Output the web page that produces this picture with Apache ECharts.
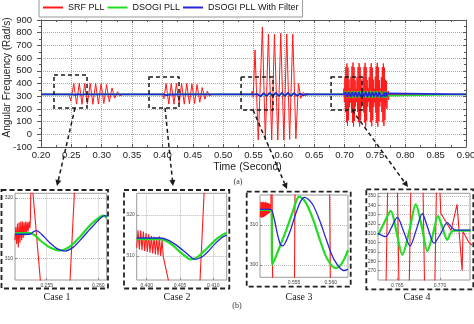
<!DOCTYPE html>
<html>
<head>
<meta charset="utf-8">
<script src="https://cdn.jsdelivr.net/npm/echarts@6/dist/echarts.min.js"></script>
<style>
html,body{margin:0;padding:0;background:#fff;}
#c{width:474px;height:324px;}
</style>
</head>
<body>
<div id="c"></div>
<script>
// ---- series identity ----
const seriesNames = ['SRF PLL', 'DSOGI PLL', 'DSOGI PLL With Filter'];
const seriesColors = ['#ff1a1a', '#22dd22', '#2626d8'];

// ---- main panel (a): angular frequency vs time, [t (s), rad/s] ----
const srfMain = [
  [0.200,314],[0.246,314],[0.249,262],[0.254,400],[0.2585,238],[0.263,402],[0.2675,236],[0.272,400],[0.2765,238],
  [0.281,401],[0.2855,236],[0.290,400],[0.2945,238],[0.299,398],[0.3035,242],[0.308,392],[0.3125,255],[0.317,365],
  [0.3215,285],[0.326,335],[0.330,303],[0.334,314],
  [0.400,314],[0.4025,280],[0.406,400],[0.4105,238],[0.4145,401],[0.419,237],[0.423,400],[0.4275,238],[0.4315,401],
  [0.436,237],[0.440,400],[0.4445,240],[0.4485,398],[0.453,243],[0.457,392],[0.4615,252],[0.4655,368],[0.470,276],
  [0.474,340],[0.4775,300],[0.481,314],
  [0.546,314],[0.548,340],[0.5495,290],[0.5525,664],[0.5578,-45],[0.5646,845],[0.5695,-45],[0.5745,790],[0.5800,-45],
  [0.5845,787],[0.5900,-45],[0.5949,795],[0.6000,-45],[0.6048,790],[0.6095,-40],[0.6147,790],[0.6198,-35],[0.6240,400],
  [0.6280,283],[0.6320,330],[0.6360,305],[0.640,314],
  [0.698,314],
  [0.6989,360],[0.6997,255],[0.7006,450],[0.7014,175],[0.7022,530],[0.7031,95],[0.7039,558],[0.7048,66],[0.7056,525],[0.7064,110],[0.7073,430],[0.7081,215],
  [0.7089,362],[0.7097,250],[0.7106,455],[0.7114,170],[0.7122,535],[0.7131,90],[0.7139,565],[0.7148,60],[0.7156,528],[0.7164,105],[0.7173,425],[0.7181,220],
  [0.7189,358],[0.7197,255],[0.7206,450],[0.7214,175],[0.7222,530],[0.7231,95],[0.7239,560],[0.7248,62],[0.7256,530],[0.7264,110],[0.7273,432],[0.7281,212],
  [0.7289,360],[0.7297,252],[0.7306,452],[0.7314,172],[0.7322,532],[0.7331,92],[0.7339,562],[0.7348,60],[0.7356,527],[0.7364,106],[0.7373,428],[0.7381,218],
  [0.7389,361],[0.7397,255],[0.7406,450],[0.7414,175],[0.7422,530],[0.7431,95],[0.7439,560],[0.7448,63],[0.7456,525],[0.7464,110],[0.7473,430],[0.7481,214],
  [0.7489,359],[0.7497,250],[0.7506,454],[0.7514,170],[0.7522,534],[0.7531,90],[0.7539,563],[0.7548,60],[0.7556,529],[0.7564,104],[0.7573,426],[0.7581,219],
  [0.7589,360],[0.7597,255],[0.7606,450],[0.7614,175],[0.7622,530],[0.7631,95],[0.7639,558],[0.7648,65],[0.7656,525],[0.7664,112],[0.7673,430],[0.7681,215],
  [0.7690,420],[0.7698,200],[0.7704,331],[0.7713,313],[0.7720,341],[0.7726,270],[0.7729,310],[0.7735,300],[0.7742,295],
  [0.7760,305],[0.7780,314],[0.900,314]
];
const dsogiMain = [
  [0.200,314],[0.252,314],[0.2563,311],[0.2605,317],[0.265,312.5],[0.270,315],[0.280,314],
  [0.402,314],[0.4065,309],[0.4118,315.5],[0.418,313],[0.430,314],
  [0.5519,314],[0.5521,300],[0.5557,317],[0.5607,299],[0.5657,321],[0.5707,301],[0.5757,323],[0.5807,302],[0.5857,323],
  [0.5907,302],[0.5957,323],[0.6007,302],[0.6057,323],[0.6107,302],[0.6157,322],[0.6207,304],[0.6257,319],[0.6307,308],
  [0.6357,316],[0.642,314],
  [0.6990,314],[0.7013,338],[0.7039,289],[0.7065,340],[0.7091,288],[0.7117,341],[0.7143,287],[0.7169,339],[0.7195,290],
  [0.7221,340],[0.7247,288],[0.7273,341],[0.7299,287],[0.7325,338],[0.7351,290],[0.7377,340],[0.7403,288],[0.7429,341],
  [0.7455,287],[0.7481,339],[0.7507,289],[0.7533,340],[0.7559,288],[0.7585,341],[0.7611,287],[0.7627,310],[0.7642,334],
  [0.7656,287],[0.7672,341],[0.7685,291],[0.7698,329],[0.7709,303],[0.7717,313],[0.900,314]
];
const filterMain = [
  [0.200,314],[0.252,314],[0.254,314.6],[0.2568,311.2],[0.2607,317],[0.2655,312.5],[0.271,315],[0.280,314],
  [0.402,314.4],[0.40725,309.2],[0.412,315.1],[0.418,313.5],[0.430,314],
  [0.5518,314],[0.5534,304.8],[0.5565,317],[0.5618,298.6],[0.5668,324],[0.5718,302],[0.5768,326],[0.5818,303],[0.5868,326],
  [0.5918,303],[0.5968,326],[0.6018,303],[0.6068,326],[0.6118,303],[0.6168,324],[0.6218,304],[0.6268,320],[0.6318,308],
  [0.6368,316],[0.643,314],
  [0.6990,314],[0.7012,330],[0.7040,297],[0.7068,331],[0.7096,297],[0.7124,330],[0.7152,298],[0.7180,331],[0.7208,297],
  [0.7236,330],[0.7264,297],[0.7292,331],[0.7320,298],[0.7348,330],[0.7376,297],[0.7404,331],[0.7432,297],[0.7460,330],
  [0.7488,298],[0.7516,331],[0.7544,297],[0.7572,330],[0.7600,298],[0.7636,306.5],[0.7650,327],[0.76649,296.5],
  [0.76793,331],[0.7693,299.5],[0.77086,321.5],[0.7718,313.5],[0.900,314]
];

// ---- panel (b): close-ups of the four disturbance cases ----
const srfCase1 = [
  [0.25193,313.0],[0.25201,315.2],[0.25209,312.4],[0.25217,315.8],[0.25225,311.8],[0.25233,316.0],[0.25241,312.6],
  [0.25249,316.1],[0.25257,313.0],[0.25265,316.1],[0.25273,313.4],[0.25281,316.0],[0.25289,313.8],[0.25297,316.1],
  [0.25305,314.2],[0.25313,316.0],[0.25321,314.5],[0.25329,316.1],[0.25337,315.0],[0.25341,316.0],[0.25350,324.2],
  [0.25480,298.0],[0.25600,280.0],[0.25700,297.5],[0.25800,331.8],[0.26090,345.0]
];
const dsogiCase1 = [
  [0.25193,314.2],[0.25338,314.2],[0.25387,313.8],[0.25435,313.0],[0.25532,311.8],[0.25629,311.3],[0.25726,312.0],
  [0.25823,313.6],[0.25920,315.5],[0.26016,316.9],[0.26055,317.1],[0.26081,316.7]
];
const filterCase1 = [
  [0.25193,314.0],[0.25338,314.0],[0.25370,314.4],[0.25403,314.6],[0.25450,314.0],[0.25530,312.6],[0.25600,311.6],
  [0.25677,311.2],[0.25760,311.9],[0.25850,313.5],[0.25950,315.4],[0.26065,317.1],[0.26081,317.0]
];
const srfCase2 = [
  [0.3985,312.0],[0.3987,316.3],[0.3989,311.6],[0.3991,316.2],[0.3993,311.4],[0.3995,316.0],[0.3997,311.2],[0.3999,315.6],
  [0.4001,311.0],[0.4003,315.3],[0.4005,310.8],[0.4007,314.9],[0.4009,310.6],[0.4011,314.7],[0.4013,310.4],[0.4015,314.6],
  [0.4017,310.2],[0.4019,314.8],[0.4021,310.0],[0.4023,314.0],[0.40249,309.8],[0.40324,304.2],[0.4045,290],[0.4060,250],
  [0.4077,293.7],[0.4090,339],[0.4121,360]
];
const dsogiCase2 = [
  [0.3985,314.1],[0.4020,314.1],[0.4030,313.6],[0.4040,312.5],[0.4050,311.0],[0.4060,309.7],[0.4065,309.2],[0.4075,309.6],
  [0.4085,311.0],[0.4095,312.6],[0.4105,314.2],[0.4118,315.5],[0.4120,315.6]
];
const filterCase2 = [
  [0.3985,314.4],[0.4020,314.4],[0.4032,313.9],[0.4045,312.6],[0.4058,310.9],[0.4068,309.5],[0.40725,309.2],[0.4082,309.7],
  [0.4092,311.1],[0.4102,312.9],[0.4112,314.4],[0.4120,315.1]
];
const srfCase3 = [
  [0.55040,312.0],[0.55048,315.8],[0.55056,311.8],[0.55064,315.7],[0.55072,311.9],[0.55080,315.8],[0.55088,312.0],
  [0.55096,315.6],[0.55104,312.2],[0.55112,315.8],[0.55120,312.4],[0.55128,315.6],[0.55136,312.6],[0.55144,315.5],
  [0.55152,312.8],[0.55160,315.4],[0.55168,313.0],[0.55176,315.2],[0.55184,313.4],[0.55195,340],[0.55213,280],
  [0.5545,200],[0.55500,280],[0.55520,335],[0.5575,500],[0.55980,330],[0.56002,280],[0.5624,150]
];
const dsogiCase3 = [
  [0.55036,313.75],[0.55190,313.75],[0.55204,300],[0.5530,304.3],[0.5540,309.0],[0.5548,313.2],[0.5553,316.0],
  [0.55568,317.1],[0.5565,315.9],[0.5575,311.9],[0.5585,306.4],[0.5595,301.6],[0.56069,299.2],[0.5615,300.3],[0.56236,303.7]
];
const filterCase3 = [
  [0.55036,313.9],[0.55182,313.9],[0.55230,311.5],[0.55270,308.0],[0.55310,305.3],[0.55340,304.75],[0.55380,305.5],
  [0.5545,308.6],[0.5552,312.6],[0.5559,315.9],[0.55646,316.9],[0.5575,315.25],[0.5585,311.1],[0.5595,305.8],
  [0.5605,301.2],[0.56182,298.6],[0.56236,298.9]
];
const srfCase4 = [
  [0.76274,90],[0.7634,100],[0.7642,540],[0.7647,540],[0.7655,80],[0.7661,80],[0.7669,540],[0.7677,540],[0.7685,80],
  [0.7691,90],[0.7697,420],[0.7701,331.5],[0.7713,313],[0.7720,341],[0.7726,270],[0.7727,312],[0.7734,300],[0.7741,295]
];
const dsogiCase4 = [
  [0.76274,308],[0.76350,322],[0.76423,334],[0.76490,312],[0.76559,287],[0.76640,312],[0.76716,341],[0.76785,318],
  [0.76852,291],[0.76915,308],[0.76977,328.6],[0.77030,316],[0.77086,303],[0.77130,311],[0.77170,313],[0.77360,313]
];
const filterCase4 = [
  [0.76274,310],[0.76364,306.5],[0.76430,316],[0.76500,327],[0.76575,312],[0.76649,296.5],[0.76720,313],[0.76793,331],
  [0.76860,315],[0.76930,299.5],[0.77010,310],[0.77086,321.5],[0.77140,316],[0.77184,313.5],[0.77360,313.5]
];

// axis ranges and tick values of the close-ups
const caseXRange = [[0.25193,0.26081],[0.3985,0.4120],[0.55036,0.56236],[0.76274,0.77352]];
const caseYRange = [[306.4,320.8],[304.15,325.3],[296.9,317.5],[260,352.9]];
const caseXTicks = [[0.255,0.260],[0.400,0.405,0.410],[0.555,0.560],[0.765,0.770]];
const caseYTicks = [[310,320],[310,320],[300,310],[270,280,290,300,310,320,330,340,350]];
const caseTitles = ['Case 1','Case 2','Case 3','Case 4'];

// zoom windows marked on the main panel: [t0, t1, v0, v1]
const caseWindows = [[0.2214,0.2758,207,467],[0.3779,0.4273,207,451],[0.5295,0.5822,191,451],[0.6778,0.7288,191,451]];
const arrowFrom = [[0.256,207],[0.4043,207],[0.5493,191],[0.7124,191]];

// ---- layout (pixels) ----
const insetLayout = [
  {box:[1.5,190,106.5,98.5], plot:[15,193.3,91.7,86.7], caption:[57,297], tip:[57,186]},
  {box:[124,190,105.3,98.5], plot:[136.7,193.3,90,86.7], caption:[177,297], tip:[173,186]},
  {box:[246.7,191.7,104,95], plot:[260,195,88,82.3], caption:[299,297], tip:[287,189]},
  {box:[366.3,189.3,107,100], plot:[378,193.3,92,86.7], caption:[417,297], tip:[408,187]}
];

const FONT = '"Liberation Sans", Arial, sans-serif';
const SERIF = '"Liberation Serif", "Times New Roman", serif';
const AX = '#555';

const grids = [{left:41, top:20, right:8, bottom:177, show:false, outerBoundsMode:'none', containLabel:false}];
insetLayout.forEach(L => {
  grids.push({left:L.plot[0], top:L.plot[1], width:L.plot[2], height:L.plot[3],
    outerBoundsMode:'none', containLabel:false,
    show:true, borderColor:'#9a9a9a', borderWidth:1, backgroundColor:'#fff'});
});

const xAxes = [
  {type:'value', gridIndex:0, min:0.2, max:0.9, interval:0.05,
   axisLine:{show:true, onZero:false, lineStyle:{color:AX}},
   axisTick:{inside:true, length:3, lineStyle:{color:AX}},
   minorTick:{show:true, splitNumber:2, length:2, lineStyle:{color:AX}},
   axisLabel:{fontSize:9.5, margin:3, color:'#222', fontFamily:FONT, formatter:v => v.toFixed(2)},
   splitLine:{show:true, lineStyle:{type:'dotted', color:'#aaa'}},
   name:'Time (Second)', nameLocation:'middle', nameGap:15, nameMoveOverlap:false,
   nameTextStyle:{fontSize:10.5, color:'#222', fontFamily:FONT, padding:[0,12,0,0]}},
  {type:'value', gridIndex:0, position:'top', min:0.2, max:0.9, interval:0.05,
   axisLine:{show:true, onZero:false, lineStyle:{color:AX}},
   axisTick:{inside:true, length:3, lineStyle:{color:AX}},
   minorTick:{show:true, splitNumber:2, length:2, lineStyle:{color:AX}},
   axisLabel:{show:false}, splitLine:{show:false}}
];
const yAxes = [
  {type:'value', gridIndex:0, min:-100, max:900, interval:100,
   axisLine:{show:true, onZero:false, lineStyle:{color:AX}},
   axisTick:{inside:false, length:4, lineStyle:{color:AX}},
   minorTick:{show:true, splitNumber:2, length:2, lineStyle:{color:AX}},
   axisLabel:{fontSize:9.5, margin:9, color:'#222', fontFamily:FONT},
   splitLine:{show:true, lineStyle:{type:'dotted', color:'#aaa'}},
   name:'Angular Frequency (Rad/s)', nameLocation:'middle', nameGap:29, nameMoveOverlap:false,
   nameTextStyle:{fontSize:10, color:'#222', fontFamily:FONT, padding:[0,0,0,12]}},
  {type:'value', gridIndex:0, position:'right', min:-100, max:900, interval:100,
   axisLine:{show:true, onZero:false, lineStyle:{color:AX}},
   axisTick:{inside:true, length:3, lineStyle:{color:AX}},
   minorTick:{show:true, splitNumber:2, length:2, lineStyle:{color:AX}},
   axisLabel:{show:false}, splitLine:{show:false}}
];
for (let i = 0; i < 4; i++) {
  xAxes.push({type:'value', gridIndex:i+1, min:caseXRange[i][0], max:caseXRange[i][1],
    axisLine:{show:false},
    axisTick:{show:true, inside:true, length:2, customValues:caseXTicks[i], lineStyle:{color:'#888'}},
    axisLabel:{customValues:caseXTicks[i], fontSize:5, margin:3, color:'#444', fontFamily:FONT,
      formatter:v => v.toFixed(3)},
    splitLine:{show:true, lineStyle:{type:'dotted', color:'#bbb'}}});
  yAxes.push({type:'value', gridIndex:i+1, min:caseYRange[i][0], max:caseYRange[i][1],
    axisLine:{show:false},
    axisTick:{show:true, inside:true, length:2, customValues:caseYTicks[i], lineStyle:{color:'#888'}},
    axisLabel:{customValues:caseYTicks[i], fontSize:5, margin:2, color:'#444', fontFamily:FONT},
    splitLine:{show:true, lineStyle:{type:'dotted', color:'#bbb'}}});
}

function lineSeries(k, data, axis, width, smooth) {
  return {name:seriesNames[k], type:'line', xAxisIndex:axis, yAxisIndex:axis, data:data,
    symbol:'none', smooth:smooth || false, lineStyle:{color:seriesColors[k], width:width},
    itemStyle:{color:seriesColors[k]}, z:2 + k, silent:true};
}

const caseSets = [
  [srfCase1, dsogiCase1, filterCase1],
  [srfCase2, dsogiCase2, filterCase2],
  [srfCase3, dsogiCase3, filterCase3],
  [srfCase4, dsogiCase4, filterCase4]
];

const series = [
  lineSeries(0, srfMain, 0, 1),
  lineSeries(1, dsogiMain, 0, 1.6),
  lineSeries(2, filterMain, 0, 1.8)
];
caseSets.forEach((set, i) => {
  series.push(lineSeries(0, set[0], i + 2, 1.1));
  series.push(lineSeries(1, set[1], i + 2, 2.2, 0.3));
  series.push(lineSeries(2, set[2], i + 2, 1.3, 0.3));
});

const option = {
  animation:false,
  backgroundColor:'#fff',
  textStyle:{fontFamily:FONT},
  legend:{data:seriesNames, left:39, top:-3, orient:'horizontal', icon:'rect',
    itemWidth:20, itemHeight:2, itemGap:3, padding:[6,4,5,4],
    borderColor:'#999', borderWidth:1, backgroundColor:'#fff',
    textStyle:{fontSize:9, color:'#111', fontFamily:FONT}},
  grid:grids, xAxis:xAxes, yAxis:yAxes, series:series
};

const chart = echarts.init(document.getElementById('c'), null, {renderer:'canvas'});
chart.setOption(option);

// annotation layer: zoom windows, arrows, close-up frames and captions
const graphics = [];
caseWindows.forEach(w => {
  const p0 = chart.convertToPixel({gridIndex:0}, [w[0], w[3]]);
  const p1 = chart.convertToPixel({gridIndex:0}, [w[1], w[2]]);
  graphics.push({type:'rect', z:50, silent:true,
    shape:{x:p0[0], y:p0[1], width:p1[0]-p0[0], height:p1[1]-p0[1]},
    style:{fill:'none', stroke:'#1a1a1a', lineWidth:1.5, lineDash:[4,3]}});
});
arrowFrom.forEach((a, i) => {
  const s = chart.convertToPixel({gridIndex:0}, a);
  const e = insetLayout[i].tip;
  const dx = e[0]-s[0], dy = e[1]-s[1], len = Math.hypot(dx, dy);
  const ux = dx/len, uy = dy/len, px = -uy, py = ux;
  const hl = 6, hw = 3;
  const bx = e[0]-ux*hl, by = e[1]-uy*hl;
  graphics.push({type:'line', z:50, silent:true,
    shape:{x1:s[0], y1:s[1], x2:bx, y2:by},
    style:{stroke:'#1a1a1a', lineWidth:1.5, lineDash:[4,3]}});
  graphics.push({type:'polygon', z:50, silent:true,
    shape:{points:[[e[0],e[1]],[bx+px*hw,by+py*hw],[bx-px*hw,by-py*hw]]},
    style:{fill:'#1a1a1a'}});
});
insetLayout.forEach((L, i) => {
  graphics.push({type:'rect', z:50, silent:true,
    shape:{x:L.box[0], y:L.box[1], width:L.box[2], height:L.box[3]},
    style:{fill:'none', stroke:'#222', lineWidth:1.8, lineDash:[5,3]}});
  graphics.push({type:'text', z:50, silent:true, x:L.caption[0], y:L.caption[1],
    style:{text:caseTitles[i], font:'10px ' + SERIF, fill:'#222', align:'center', verticalAlign:'middle'}});
});
graphics.push({type:'text', z:50, silent:true, x:238, y:182,
  style:{text:'(a)', font:'8px ' + SERIF, fill:'#333', align:'center', verticalAlign:'middle'}});
graphics.push({type:'text', z:50, silent:true, x:237, y:306,
  style:{text:'(b)', font:'8px ' + SERIF, fill:'#333', align:'center', verticalAlign:'middle'}});
chart.setOption({graphic:graphics});
</script>
</body>
</html>
